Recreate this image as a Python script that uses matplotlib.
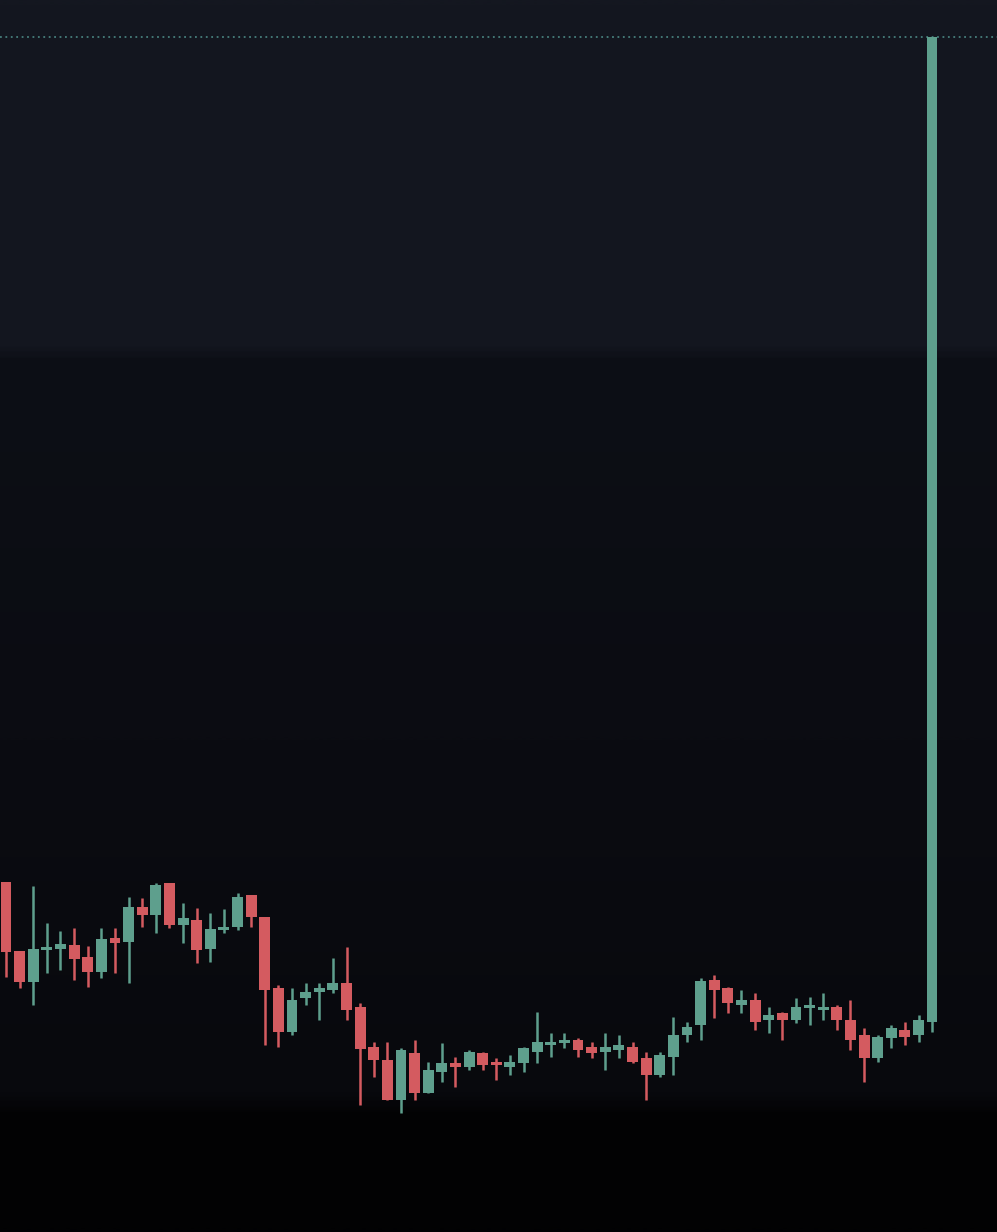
import numpy as np
import matplotlib
matplotlib.use("Agg")
import matplotlib.pyplot as plt
from matplotlib.colors import LinearSegmentedColormap

# OHLC data (arbitrary price units)
opens = [35.0, 28.1, 25.0, 28.2, 28.3, 28.7, 27.5, 26.0, 29.4, 29.0,
         32.5, 31.7, 34.9, 30.7, 31.2, 28.3, 30.2, 30.5, 33.7, 31.5,
         24.4, 20.0, 23.4, 24.0, 24.2, 24.9, 22.5, 18.5, 17.2, 13.2,
         17.9, 13.9, 16.0, 16.9, 16.5, 17.9, 17.0, 16.5, 16.9, 18.0,
         18.7, 18.9, 19.2, 18.5, 18.0, 18.2, 18.5, 17.4, 15.7, 17.5,
         19.7, 20.7, 25.2, 24.4, 22.7, 23.2, 21.2, 21.9, 21.2, 22.4,
         22.2, 22.5, 21.2, 19.7, 17.4, 19.4, 20.2, 19.7, 21.0]
highs = [35.0, 28.1, 34.6, 30.9, 30.1, 30.4, 28.6, 30.4, 30.4, 33.5,
         33.4, 34.9, 34.9, 32.9, 32.4, 31.9, 32.3, 33.9, 33.7, 31.5,
         24.7, 24.4, 24.9, 24.9, 27.4, 28.5, 22.9, 19.0, 19.0, 18.4,
         19.2, 17.0, 18.9, 17.5, 18.2, 18.0, 17.4, 17.7, 18.5, 22.0,
         19.9, 19.9, 19.4, 19.0, 19.9, 19.7, 19.0, 18.0, 18.0, 21.5,
         21.0, 25.4, 25.7, 24.5, 24.2, 23.9, 22.5, 22.0, 23.4, 23.5,
         23.9, 22.7, 23.2, 20.4, 19.7, 20.7, 21.0, 21.7, 119.5]
lows = [25.5, 24.4, 22.7, 25.9, 26.2, 25.2, 24.5, 25.4, 25.9, 24.9,
        30.5, 29.9, 30.4, 28.9, 26.9, 27.0, 29.9, 30.2, 30.5, 18.7,
        18.5, 19.7, 22.7, 21.2, 23.9, 21.2, 12.7, 15.5, 13.2, 11.9,
        13.2, 13.9, 15.0, 14.5, 16.2, 16.2, 15.2, 15.7, 16.0, 16.9,
        17.5, 18.4, 17.5, 17.4, 16.2, 17.4, 16.9, 13.2, 15.5, 15.7,
        19.0, 19.2, 21.4, 21.9, 21.9, 20.2, 19.9, 19.2, 20.9, 20.7,
        21.2, 20.2, 18.2, 15.0, 17.0, 18.4, 18.7, 19.0, 20.0]
closes = [28.0, 25.0, 28.3, 28.5, 28.8, 27.3, 26.0, 29.3, 28.9, 32.5,
          31.7, 34.7, 30.7, 31.4, 28.2, 30.3, 30.5, 33.5, 31.5, 24.2,
          20.0, 23.2, 24.0, 24.4, 24.9, 22.2, 18.3, 17.2, 13.2, 18.2,
          13.9, 16.2, 16.9, 16.5, 18.0, 16.7, 16.7, 17.0, 18.4, 19.0,
          19.0, 19.2, 18.2, 17.9, 18.5, 18.7, 17.0, 15.7, 17.7, 19.7,
          20.5, 25.1, 24.2, 22.9, 23.2, 21.0, 21.7, 21.2, 22.5, 22.7,
          22.5, 21.2, 19.2, 17.4, 19.5, 20.4, 19.5, 21.2, 119.5]
high_line = 119.5

GREEN = "#5e9f8d"
RED = "#d45b60"

fig = plt.figure(figsize=(9.97, 12.32), dpi=100)
ax = fig.add_axes([0, 0, 1, 1])
ax.set_axis_off()

# background gradient
bg_colors = [(0.00, "#141720"), (0.28, "#13161f"), (0.29, "#0d0f16"),
             (0.60, "#0b0c12"), (0.89, "#08090d"), (0.905, "#030304"),
             (1.00, "#020203")]
cmap = LinearSegmentedColormap.from_list("bg", bg_colors)
grad = np.linspace(0, 1, 600).reshape(-1, 1)
ax.imshow(grad, cmap=cmap, aspect="auto", extent=[0, 1, 0, 1],
          transform=ax.transAxes, zorder=0, interpolation="bilinear")

n = len(opens)
x = np.arange(n)
step = 13.62
ax.set_xlim(-6 / step, (997 - 6) / step)
ax.set_ylim(0, 123.2)

for i in range(n):
    o, h, l, c = opens[i], highs[i], lows[i], closes[i]
    col = GREEN if c >= o else RED
    ax.vlines(x[i], l, h, color=col, linewidth=1.8, zorder=2)
    lo, hi = min(o, c), max(o, c)
    ht = max(hi - lo, 0.35)
    w = 0.8 if i < n - 1 else 0.72
    ax.bar(x[i], ht, bottom=lo, width=w, color=col, edgecolor=col,
           linewidth=0, zorder=3)

ax.axhline(high_line, color="#4c8a86", linestyle=(0, (1, 2)), linewidth=1.3,
           alpha=0.9, zorder=1)

fig.savefig("out.png", dpi=100, facecolor="#0c0d12")
